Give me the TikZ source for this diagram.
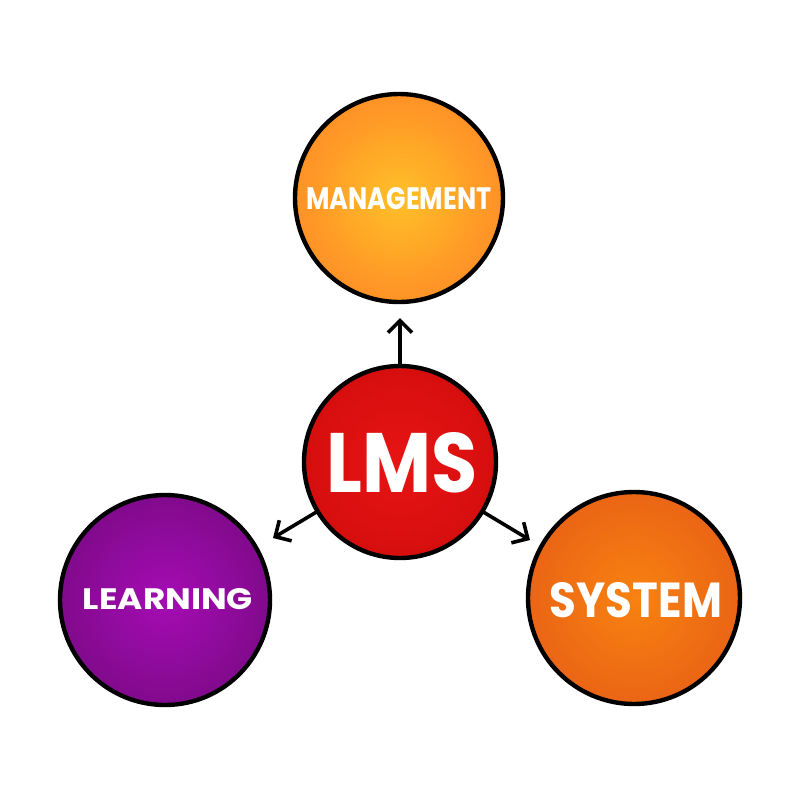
\documentclass[tikz,border=0pt]{standalone}
\usepackage{fontspec}
\newfontfamily\labfont{Poppins}
\usetikzlibrary{arrows.meta}
\definecolor{mgmtin}{RGB}{255,192,40}
\definecolor{mgmtmid}{RGB}{255,150,38}
\definecolor{mgmtout}{RGB}{255,118,32}
\definecolor{lmsin}{RGB}{232,20,20}
\definecolor{lmsout}{RGB}{196,8,8}
\definecolor{lrnin}{RGB}{165,12,180}
\definecolor{lrnout}{RGB}{92,8,100}
\definecolor{sysin}{RGB}{248,130,16}
\definecolor{sysout}{RGB}{220,72,26}
\pgfdeclareradialshading{mgmtshade}{\pgfpoint{0bp}{0bp}}{color(0bp)=(mgmtin); color(22bp)=(mgmtmid); color(50bp)=(mgmtout)}
\pgfdeclareradialshading{lmsshade}{\pgfpoint{0bp}{0bp}}{color(0bp)=(lmsin); color(50bp)=(lmsout)}
\pgfdeclareradialshading{lrnshade}{\pgfpoint{0bp}{0bp}}{color(0bp)=(lrnin); color(50bp)=(lrnout)}
\pgfdeclareradialshading{sysshade}{\pgfpoint{0bp}{0bp}}{color(0bp)=(sysin); color(50bp)=(sysout)}
\newcommand{\lbl}[3]{\resizebox{#1}{#2}{\labfont\bfseries #3}}
\tikzset{
  ball/.style={circle, draw=black, line width=2.2pt, inner sep=0pt, text=white},
  arr/.style={line width=1.8pt, -{Straight Barb[length=6pt,width=12pt,line width=1.8pt]}, shorten <=-1pt}
}
\begin{document}
\begin{tikzpicture}[x=0.5pt,y=-0.5pt]
\useasboundingbox (0,0) rectangle (800,800);
\fill[white] (0,0) rectangle (800,800);
\node[ball, shading=mgmtshade, minimum size=104pt] (mgmt) at (399,198) {};
\node[ball, shading=lmsshade, minimum size=96pt] (lms) at (400,462) {};
\node[ball, shading=lrnshade, minimum size=105pt] (lrn) at (165,600) {};
\node[ball, shading=sysshade, minimum size=106pt] (sys) at (634,598) {};
\node[text=white, inner sep=0pt] (tm) at (399,199) {\lbl{92.5pt}{11pt}{MANAGEMENT}};
\node[text=white, inner sep=0pt] (tl) at (402,463) {\lbl{75.5pt}{30pt}{LMS}};
\node[text=white, inner sep=0pt] (tr) at (168,599) {\lbl{85pt}{10.5pt}{LEARNING}};
\node[text=white, inner sep=0pt] (ts) at (636,600) {\lbl{86pt}{17.5pt}{SYSTEM}};
\coordinate (tipup) at (400,318);
\coordinate (tipleft) at (273,538);
\coordinate (tipright) at (530,540);
\draw[arr] (lms) -- (tipup);
\draw[arr] (lms) -- (tipleft);
\draw[arr] (lms) -- (tipright);
\end{tikzpicture}
\end{document}
